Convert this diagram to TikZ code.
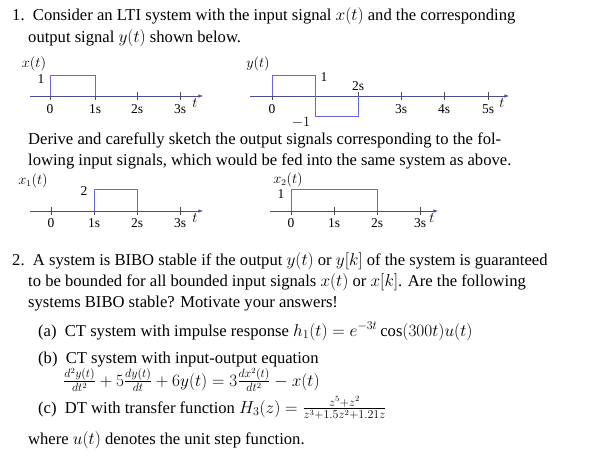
\documentclass[tikz,border=0pt]{standalone}
\usepackage{amsmath}
\usepackage{fontspec}
\setmainfont{Liberation Serif}
\begin{document}
\begin{tikzpicture}[x=1pt,y=-1pt,
  txt/.style={anchor=base west,inner sep=0pt,font=\fontsize{16.6}{19}\selectfont},
  sm/.style={inner sep=0pt,font=\fontsize{13.5}{15}\selectfont},
  ax/.style={draw=black!60!blue!70,line width=0.6pt,-latex},
  pl/.style={draw=blue!50!black!40!blue!60,line width=0.8pt},
  tk/.style={draw=black!70,line width=0.5pt}]
\useasboundingbox (0,0) rectangle (612,464);
\node[txt] (l1) at (12,20) {1.\ \ Consider an LTI system with the input signal $x(t)$ and the corresponding};
\node[txt] (l2) at (28,42) {output signal $y(t)$ shown below.};
% plot 1
\draw[ax] (30,96) -- (203,96);
\foreach \x/\l in {50/0,95/1s,137/2s,180/3s}{\draw[tk] (\x,92)--(\x,100); \node[sm] at (\x,109) {\l};}
\draw[pl] (50,96)--(50,75)--(95,75)--(95,96);
\node[sm] (xa) at (34,64) {$x(t)$};
\node[sm] (xa1) at (41,79) {1};
\node[sm] (ta) at (195,103) {$t$};
% plot 2
\draw[ax] (250,96) -- (509,96);
\foreach \x/\l in {272/0,358/,401/3s,444/4s,488/5s}{\draw[tk] (\x,92)--(\x,100);}
\foreach \x/\l in {272/0,401/3s,444/4s,488/5s}{\node[sm] at (\x,109) {\l};}
\draw[pl] (272,96)--(272,75)--(315,75)--(315,116)--(358,116)--(358,96);
\node[sm] (ya) at (258,64) {$y(t)$};
\node[sm] at (324,77) {1};
\node[sm] at (358,86) {2s};
\node[sm] at (301,122) {$-1$};
\node[sm] at (502,103) {$t$};
% text
\node[txt] at (28,144) {Derive and carefully sketch the output signals corresponding to the fol-};
\node[txt] at (28,165) {lowing input signals, which would be fed into the same system as above.};
% plot 3
\draw[ax] (30,211) -- (203,211);
\foreach \x/\l in {51/0,94/1s,137/2s,180/3s}{\draw[tk] (\x,207)--(\x,215); \node[sm] at (\x,223) {\l};}
\draw[pl] (94,211)--(94,189)--(137,189)--(137,211);
\node[sm] at (33,181) {$x_1(t)$};
\node[sm] at (84,191) {2};
\node[sm] at (195,218) {$t$};
% plot 4
\draw[ax] (270,211) -- (438,211);
\foreach \x/\l in {291/0,334/1s,377/2s,420/3s}{\draw[tk] (\x,207)--(\x,215); \node[sm] at (\x,223) {\l};}
\draw[pl] (291,211)--(291,189)--(377,189)--(377,211);
\node[sm] at (288,180) {$x_2(t)$};
\node[sm] at (281,194) {1};
\node[sm] at (432,218) {$t$};
% part 2
\node[txt] at (12,265) {2.\ \ A system is BIBO stable if the output $y(t)$ or $y[k]$ of the system is guaranteed};
\node[txt] at (28,286) {to be bounded for all bounded input signals $x(t)$ or $x[k]$. Are the following};
\node[txt] at (28,307) {systems BIBO stable? Motivate your answers!};
\node[txt] at (38,336) {(a)\ \ CT system with impulse response $h_1(t)=e^{-3t}\cos(300t)u(t)$};
\node[txt] at (38,363) {(b)\ \ CT system with input-output equation};
\node[txt] at (63,386) {$\frac{d^2y(t)}{dt^2}+5\frac{dy(t)}{dt}+6y(t)=3\frac{dx^2(t)}{dt^2}-x(t)$};
\node[txt] at (38,413) {(c)\ \ DT with transfer function $H_3(z)=\frac{z^5+z^2}{z^3+1.5z^2+1.21z}$};
\node[txt] at (28,444) {where $u(t)$ denotes the unit step function.};
\end{tikzpicture}
\end{document}
